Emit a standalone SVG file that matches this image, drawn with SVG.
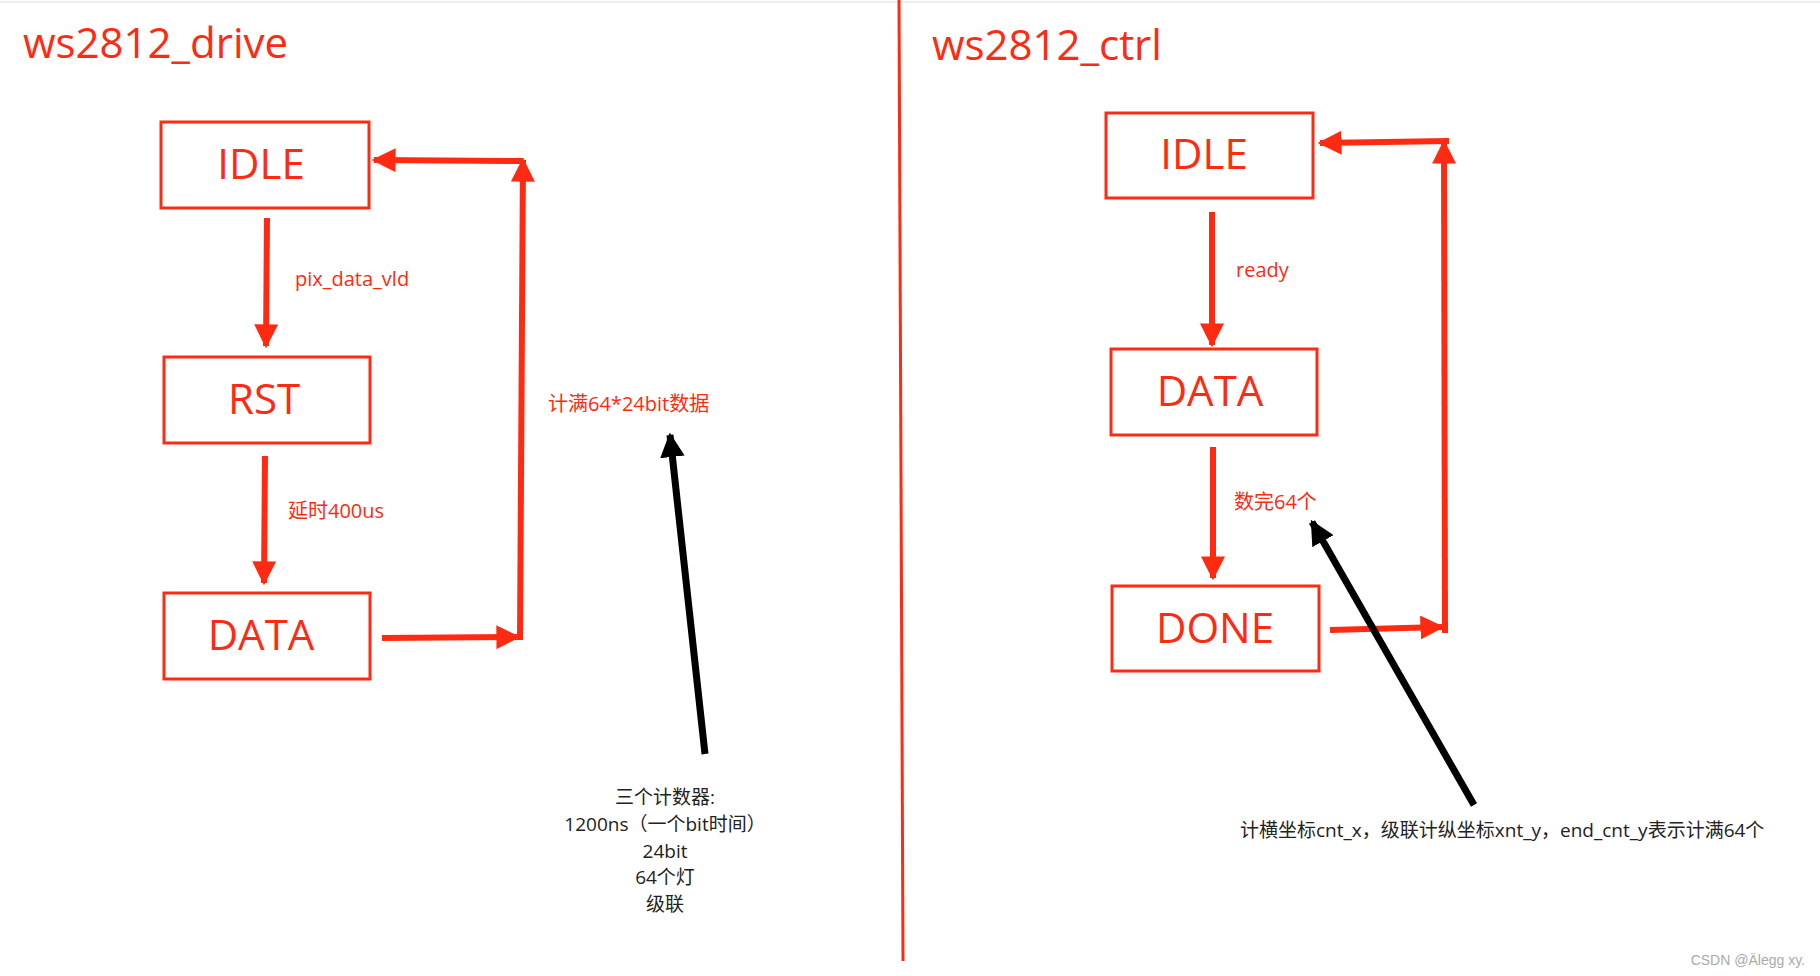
<svg xmlns="http://www.w3.org/2000/svg" width="1820" height="976" viewBox="0 0 1820 976">
<style>
.box{fill:none;stroke:#ff2a12;stroke-width:3}
.st{font-family:"Open Sans","Noto Sans",sans-serif;font-size:42px;fill:#ff2a12;text-anchor:middle}
.ti{font-family:"Open Sans","Noto Sans",sans-serif;font-size:42px;fill:#ff2a12}
.lb{font-family:"Open Sans","Noto Sans CJK SC",sans-serif;font-size:20px;fill:#ff2a12}
.bk{font-family:"Open Sans","Noto Sans CJK SC",sans-serif;font-size:19px;fill:#222}
.r{stroke:#ff2a12;stroke-width:6;fill:none}
.b{stroke:#000;stroke-width:7;fill:none}
</style>
<defs>
<marker id="ar" viewBox="0 0 10 10" refX="9" refY="5" markerWidth="4" markerHeight="4" orient="auto" markerUnits="strokeWidth"><path d="M0,0L10,5L0,10z" fill="#ff2a12"/></marker>
<marker id="ab" viewBox="0 0 10 10" refX="9" refY="5" markerWidth="3.5" markerHeight="3.5" orient="auto" markerUnits="strokeWidth"><path d="M0,0L10,5L0,10z" fill="#000"/></marker>
</defs>
<rect width="1820" height="976" fill="#fff"/>
<line x1="0" y1="2" x2="1820" y2="2" stroke="#eee" stroke-width="2"/>
<line x1="899" y1="0" x2="903" y2="961" stroke="#ff2a12" stroke-width="3"/>
<text class="ti" x="23" y="58">ws2812_drive</text>
<text class="ti" x="932" y="60">ws2812_ctrl</text>
<g id="d_idle"><rect class="box" x="161" y="122" width="208" height="86"/><text class="st" x="261" y="179">IDLE</text></g>
<g id="d_rst"><rect class="box" x="164" y="357" width="206" height="86"/><text class="st" x="264" y="414">RST</text></g>
<g id="d_data"><rect class="box" x="164" y="593" width="206" height="86"/><text class="st" x="261" y="650">DATA</text></g>
<g id="c_idle"><rect class="box" x="1106" y="113" width="207" height="85"/><text class="st" x="1204" y="169">IDLE</text></g>
<g id="c_data"><rect class="box" x="1111" y="349" width="206" height="86"/><text class="st" x="1210" y="406">DATA</text></g>
<g id="c_done"><rect class="box" x="1112" y="586" width="207" height="85"/><text class="st" x="1215" y="643">DONE</text></g>
<g id="connectors">
<line class="r" x1="267" y1="218" x2="266" y2="346" marker-end="url(#ar)"/>
<line class="r" x1="265" y1="456" x2="264" y2="583" marker-end="url(#ar)"/>
<line class="r" x1="382" y1="638" x2="518" y2="637" marker-end="url(#ar)"/>
<line class="r" x1="520" y1="640" x2="523" y2="160" marker-end="url(#ar)"/>
<line class="r" x1="523" y1="161" x2="374" y2="160" marker-end="url(#ar)"/>
<line class="r" x1="1212" y1="212" x2="1212" y2="345" marker-end="url(#ar)"/>
<line class="r" x1="1213" y1="447" x2="1213" y2="578" marker-end="url(#ar)"/>
<line class="r" x1="1330" y1="630" x2="1442" y2="627" marker-end="url(#ar)"/>
<line class="r" x1="1445" y1="633" x2="1444" y2="142" marker-end="url(#ar)"/>
<line class="r" x1="1449" y1="141" x2="1320" y2="143" marker-end="url(#ar)"/>
<line class="b" x1="705" y1="754" x2="670" y2="435" marker-end="url(#ab)"/>
<line class="b" x1="1474" y1="805" x2="1312" y2="522" marker-end="url(#ab)"/>
</g>
<text class="lb" x="295" y="286">pix_data_vld</text>
<text class="lb" x="288" y="518">延时400us</text>
<text class="lb" x="548" y="411">计满64*24bit数据</text>
<text class="lb" x="1236" y="277">ready</text>
<text class="lb" x="1234" y="509">数完64个</text>
<g class="bk" text-anchor="middle">
<text x="665" y="804">三个计数器:</text>
<text x="665" y="831">1200ns（一个bit时间）</text>
<text x="665" y="858">24bit</text>
<text x="665" y="884">64个灯</text>
<text x="665" y="911">级联</text>
</g>
<text class="bk" x="1240" y="837">计横坐标cnt_x，级联计纵坐标xnt_y，end_cnt_y表示计满64个</text>
<text x="1805" y="965" text-anchor="end" font-family="Liberation Sans,sans-serif" font-size="14" fill="#aaa">CSDN @Älegg xy.</text>
</svg>
